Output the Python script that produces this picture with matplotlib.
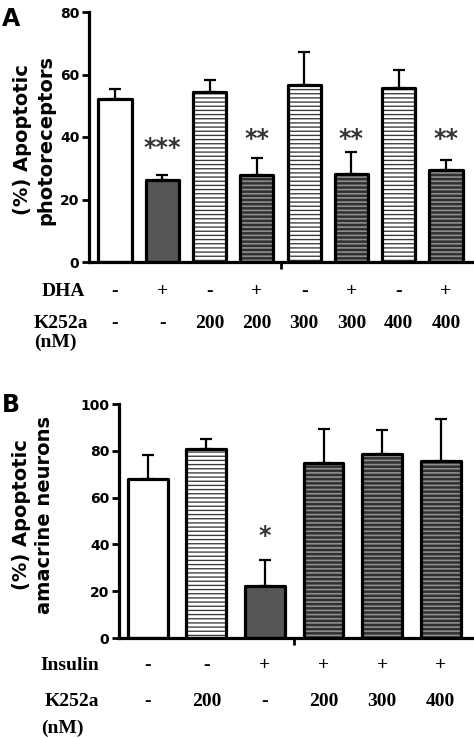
import matplotlib
matplotlib.use("Agg")
import matplotlib.pyplot as plt
from matplotlib.transforms import blended_transform_factory
import numpy as np

# ---------------- data ----------------
A_values = [52.2, 26.1, 54.5, 27.9, 56.5, 28.3, 55.6, 29.4]
A_errors = [3.1, 1.9, 3.7, 5.3, 10.6, 6.8, 5.8, 3.2]
A_styles = ["open", "dark", "light", "darkstripe", "light", "darkstripe", "light", "darkstripe"]
A_dha = ["-", "+", "-", "+", "-", "+", "-", "+"]
A_k252a = ["-", "-", "200", "200", "300", "300", "400", "400"]
A_stars = ["", "***", "", "**", "", "**", "", "**"]
A_star_y = [0, 36.5, 0, 39.5, 0, 39.5, 0, 39.5]

B_values = [68.0, 80.6, 22.4, 74.6, 78.6, 75.7]
B_errors = [10.2, 4.6, 10.8, 14.8, 10.1, 17.7]
B_styles = ["open", "light", "dark", "darkstripe", "darkstripe", "darkstripe"]
B_insulin = ["-", "-", "+", "+", "+", "+"]
B_k252a = ["-", "200", "-", "200", "300", "400"]
B_stars = ["", "", "*", "", "", ""]
B_star_y = [0, 0, 43.5, 0, 0, 0]

W, H = 474, 738
fig = plt.figure(figsize=(W / 100, H / 100), dpi=100)

SANS = "DejaVu Sans"
SERIF = "Liberation Serif"

STYLE = {
    "open": dict(face="white", hatch=None, hcol=None, hlw=1.0),
    "dark": dict(face="#555555", hatch=None, hcol=None, hlw=1.0),
    "light": dict(face="white", hatch="----", hcol="#383838", hlw=0.95),
    "darkstripe": dict(face="#303030", hatch="----", hcol="#8e8e8e", hlw=1.2),
}


def fx(px):
    return px / W


def fy(py):
    return 1 - py / H


def draw_panel(ax, values, errors, styles, stars, star_y, ymax, width):
    x = np.arange(len(values))
    for xi, v, s in zip(x, values, styles):
        st = STYLE[s]
        plt.rcParams["hatch.linewidth"] = st["hlw"]
        if st["hatch"]:
            ax.bar(xi, v, width, color=st["face"], edgecolor=st["hcol"],
                   hatch=st["hatch"], linewidth=0, zorder=2)
        else:
            ax.bar(xi, v, width, color=st["face"], linewidth=0, zorder=2)
        ax.bar(xi, v, width, fill=False, edgecolor="black", linewidth=2.3,
               zorder=3, joinstyle="round")
    ax.errorbar(x, values, yerr=[np.zeros(len(values)), errors], fmt="none",
                ecolor="black", elinewidth=1.6, capsize=4.6, capthick=1.6,
                zorder=1)
    for xi, s, sy in zip(x, stars, star_y):
        if s:
            ax.text(xi, sy, s, ha="center", va="center", fontsize=17,
                    fontweight="bold", color="#333333", family=SANS, zorder=4)
    ax.set_ylim(0, ymax)
    for side in ("top", "right"):
        ax.spines[side].set_visible(False)
    for side in ("left", "bottom"):
        ax.spines[side].set_linewidth(2.3)
    ax.tick_params(axis="y", direction="out", length=5, width=2, pad=2,
                   labelsize=10)
    ax.tick_params(axis="x", direction="out", length=5, width=2,
                   labelbottom=False)


# ---------------- Panel A ----------------
axA = fig.add_axes([fx(89), fy(262), fx(472) - fx(89), fy(12) - fy(262)])
draw_panel(axA, A_values, A_errors, A_styles, A_stars, A_star_y, 80, 0.7)
axA.set_xlim(-0.55, 7.55)
axA.set_yticks([0, 20, 40, 60, 80])
axA.set_xticks([3.5])
for lab in axA.get_yticklabels():
    lab.set_fontweight("bold")
    lab.set_family(SANS)

fig.text(fx(34), fy(140), "(%) Apoptotic\nphotoreceptors", rotation=90,
         ha="center", va="center", fontsize=14, fontweight="bold",
         family=SANS, linespacing=1.3)
fig.text(fx(2), fy(7), "A", ha="left", va="top", fontsize=17,
         fontweight="bold", family=SANS)

trA = blended_transform_factory(axA.transData, fig.transFigure)
rowkw = dict(fontsize=14, fontweight="bold", family=SERIF, va="center")
fig.text(fx(42), fy(292), "DHA", ha="left", **rowkw)
fig.text(fx(34), fy(323), "K252a", ha="left", **rowkw)
fig.text(fx(34), fy(342), "(nM)", ha="left", **rowkw)
for i, (d, k) in enumerate(zip(A_dha, A_k252a)):
    axA.text(i, fy(292), d, ha="center", transform=trA, **rowkw)
    axA.text(i, fy(323), k, ha="center", transform=trA, **rowkw)

# ---------------- Panel B ----------------
axB = fig.add_axes([fx(119), fy(638), fx(473) - fx(119), fy(404) - fy(638)])
draw_panel(axB, B_values, B_errors, B_styles, B_stars, B_star_y, 100, 0.68)
axB.set_xlim(-0.49, 5.55)
axB.set_yticks([0, 20, 40, 60, 80, 100])
axB.set_xticks([2.5])
for lab in axB.get_yticklabels():
    lab.set_fontweight("bold")
    lab.set_family(SANS)

fig.text(fx(33), fy(515), "(%) Apoptotic\namacrine neurons", rotation=90,
         ha="center", va="center", fontsize=14, fontweight="bold",
         family=SANS, linespacing=1.3)
fig.text(fx(2), fy(393), "B", ha="left", va="top", fontsize=17,
         fontweight="bold", family=SANS)

trB = blended_transform_factory(axB.transData, fig.transFigure)
fig.text(fx(40), fy(666), "Insulin", ha="left", **rowkw)
fig.text(fx(45), fy(702), "K252a", ha="left", **rowkw)
fig.text(fx(41), fy(728), "(nM)", ha="left", **rowkw)
for i, (ins, k) in enumerate(zip(B_insulin, B_k252a)):
    axB.text(i, fy(666), ins, ha="center", transform=trB, **rowkw)
    axB.text(i, fy(702), k, ha="center", transform=trB, **rowkw)

fig.savefig("out.png", dpi=100)
